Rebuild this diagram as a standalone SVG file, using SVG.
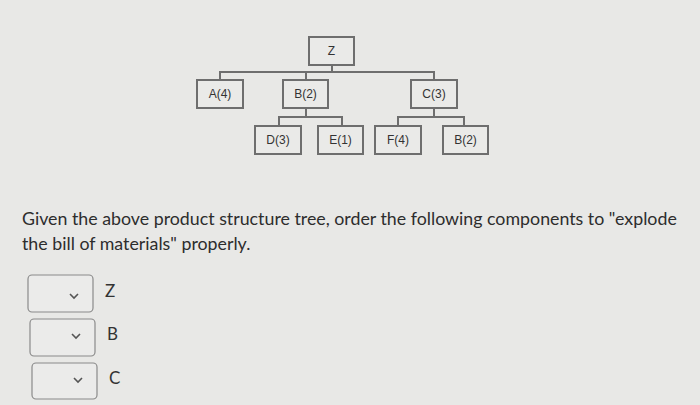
<svg xmlns="http://www.w3.org/2000/svg" width="700" height="405" viewBox="0 0 700 405">
<style>
.bg{fill:#e8e8e6}
.node rect{fill:#eaeae8;stroke:#6e6e6e;stroke-width:2}
.node text{font-family:"Liberation Sans",Arial,sans-serif;font-size:12px;fill:#333;text-anchor:middle}
.conn path{fill:none;stroke:#6e6e6e;stroke-width:2}
.q{font-family:Lato,"Open Sans",sans-serif;font-size:17.8px;fill:#2d2d2d}
.dd rect{fill:#ebebea;stroke:#8a8a8a;stroke-width:1.2}
.dd path{fill:none;stroke:#555;stroke-width:1.6}
.lbl{font-family:Lato,"Open Sans",sans-serif;font-size:17px;fill:#333}
</style>
<rect class="bg" x="0" y="0" width="700" height="405"/>
<g id="connectors" class="conn">
<path d="M332,65 V72 M220,80 V72 H434 V80 M306,72 V80"/>
<path d="M306,108 V117 M279,126 V117 H342 V126"/>
<path d="M434,108 V117 M398,126 V117 H464 V126"/>
</g>
<g id="node-Z" class="node"><rect x="309" y="37" width="45" height="28"/><text x="331.5" y="55">Z</text></g>
<g id="node-A4" class="node"><rect x="197" y="80" width="46" height="28"/><text x="220" y="98">A(4)</text></g>
<g id="node-B2a" class="node"><rect x="283" y="80" width="45" height="28"/><text x="305.5" y="98">B(2)</text></g>
<g id="node-C3" class="node"><rect x="411" y="80" width="46" height="28"/><text x="434" y="98">C(3)</text></g>
<g id="node-D3" class="node"><rect x="255" y="126" width="46" height="28"/><text x="278" y="144">D(3)</text></g>
<g id="node-E1" class="node"><rect x="318" y="126" width="45" height="28"/><text x="340.5" y="144">E(1)</text></g>
<g id="node-F4" class="node"><rect x="375" y="126" width="46" height="28"/><text x="398" y="144">F(4)</text></g>
<g id="node-B2b" class="node"><rect x="443" y="126" width="45" height="28"/><text x="465.5" y="144">B(2)</text></g>
<text class="q" x="22" y="225">Given the above product structure tree, order the following components to "explode</text>
<text class="q" x="22" y="250">the bill of materials" properly.</text>
<g id="dd1" class="dd"><rect x="28" y="275" width="65" height="37" rx="4"/><path d="M70,294 l4,4 l4,-4"/></g>
<g id="dd2" class="dd"><rect x="30" y="319" width="65" height="37" rx="4"/><path d="M72,334 l4,4 l4,-4"/></g>
<g id="dd3" class="dd"><rect x="32" y="363" width="65" height="36" rx="4"/><path d="M74,378 l4,4 l4,-4"/></g>
<text class="lbl" x="105" y="297">Z</text>
<text class="lbl" x="107" y="340">B</text>
<text class="lbl" x="109" y="384">C</text>
</svg>
